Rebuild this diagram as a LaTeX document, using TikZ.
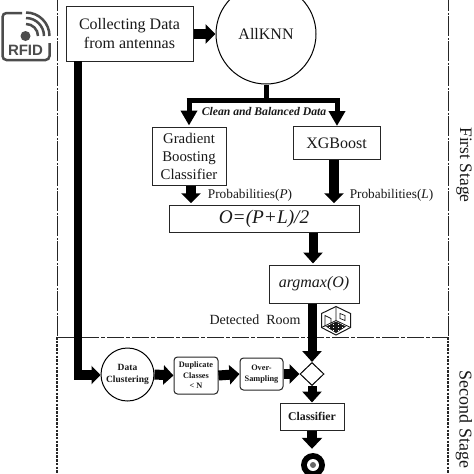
\documentclass[tikz,border=0pt]{standalone}
\usepackage{fontspec}
\setmainfont{Liberation Serif}
\newfontfamily\rfidfont{Liberation Sans}
\usetikzlibrary{shapes.geometric,arrows.meta}
\tikzset{
  px/.style={x=1pt,y=-1pt},
  box/.style={draw=black!85,line width=1pt,fill=white,inner sep=0pt,align=center,text=black!90},
  rbox/.style={box,rounded corners=3.5pt,font=\bfseries},
  circ/.style={draw=black,line width=1pt,fill=white,circle,inner sep=0pt,align=center,text=black!90},
  flow/.style={line width=10pt,-{Triangle[length=10pt,width=19pt]}},
  thin flow/.style={line width=5pt,-{Triangle[length=15pt,width=16pt]}},
  frame/.style={line width=1pt,black!85,dash pattern=on 20pt off 2pt on 1.5pt off 1.5pt,dash phase=9pt},
  hframe/.style={line width=1pt,black!85,dash pattern=on 17pt off 2pt on 4pt off 2pt},
  frame2/.style={line width=1.2pt,black!85,dash pattern=on 2.5pt off 1.2pt},
  lbl/.style={inner sep=0pt,text=black!90},
  icon/.style={black!70,line width=2.5pt}
}
\begin{document}
\begin{tikzpicture}[px]
\useasboundingbox[fill=white] (0,0) rectangle (474,474);
% frames
\coordinate (fl) at (57,0); \coordinate (fr) at (448,0);
\coordinate (ml) at (57,337); \coordinate (mr) at (448,337);
\coordinate (bl) at (57,474); \coordinate (br) at (448,474);
\draw[frame] (fl)--(ml);
\draw[frame] (fr)--(mr);
\draw[hframe] (ml)--(mr);
\draw[frame2] (ml)--(bl);
\draw[frame2] (mr)--(br);
% nodes
\node[box,minimum width=127pt,minimum height=55pt,font=\fontsize{16}{19}\selectfont] (collect) at (129.5,34) {Collecting Data\\from antennas};
\node[circ,minimum size=100pt,font=\fontsize{16}{18}\selectfont] (knn) at (266,34) {AllKNN};
\node[box,minimum width=74pt,minimum height=58pt,font=\fontsize{14.8}{18}\selectfont] (gb) at (189,156) {Gradient\\Boosting\\Classifier};
\node[box,minimum width=87pt,minimum height=33pt,font=\fontsize{16}{18}\selectfont] (xgb) at (336.5,143) {XGBoost};
\node[box,minimum width=190pt,minimum height=26.5pt,font=\itshape\fontsize{19.3}{21}\selectfont] (avg) at (264,219) {O=(P+L)/2};
\node[box,minimum width=90pt,minimum height=38pt,font=\itshape\fontsize{16}{18}\selectfont] (arg) at (314,284) {argmax(O)};
\node[diamond,draw=black,line width=1pt,fill=white,minimum width=24pt,minimum height=23pt,inner sep=0pt] (dec) at (312,374) {};
\node[box,minimum width=64pt,minimum height=27pt,font=\bfseries\fontsize{11.8}{13}\selectfont] (cls) at (312,416.5) {Classifier};
\node[circ,minimum size=53pt,font=\bfseries\fontsize{9.5}{12.7}\selectfont] (clu) at (127.5,374.5) {Data\\Clustering};
\node[rbox,minimum width=44pt,minimum height=37pt,font=\bfseries\fontsize{8.3}{10.5}\selectfont] (dup) at (196,375.5) {Duplicate\\Classes\\< N};
\node[rbox,minimum width=43pt,minimum height=32pt,font=\bfseries\fontsize{8.3}{10.5}\selectfont] (over) at (261.5,374) {Over-\\Sampling};
% target
\node[circle,fill=black,minimum size=24pt,inner sep=0pt] (end) at (313,465) {};
\node[circle,fill=white,minimum size=12pt,inner sep=0pt] (endw) at (end.center) {};
\node[circle,fill=black!60,minimum size=6pt,inner sep=0pt] (endc) at (end.center) {};
% connectors
\coordinate (jl) at (189,100);
\coordinate (jr) at (337,100);
\coordinate (bar) at (knn.south |- jl);
\draw[thin flow,shorten >=1pt] (jl) -- (gb.north);
\draw[thin flow] (jr) -- (xgb.north -| jr);
\draw[line width=5pt] ([xshift=-2.5pt]jl) -- ([xshift=2.5pt]jr);
\draw[line width=5pt] (knn.south) -- (bar);
\draw[flow] (collect.east) -- (knn.west);
\coordinate (sv) at (78,61);
\coordinate (se) at (78,375);
\draw[line width=8pt] (sv) -- (se);
\draw[line width=10pt,-{Triangle[length=9pt,width=18pt]}] ([xshift=-4pt]se) -- (clu.west |- se);
\draw[flow] (clu.east) -- (dup.west);
\draw[flow] (dup.east) -- (over.west);
\draw[flow] (over.east) -- (dec.west);
\draw[flow,shorten >=2pt] ([xshift=2pt]gb.south) -- ([xshift=2pt]gb.south |- avg.north);
\draw[flow,shorten >=2pt] ([xshift=-2.5pt]xgb.south) -- ([xshift=-2.5pt]xgb.south |- avg.north);
\draw[line width=9pt,-{Triangle[length=11pt,width=19pt]},shorten >=1pt] ([xshift=-1pt]arg.north |- avg.south) -- ([xshift=-1pt]arg.north);
\draw[line width=9pt,-{Triangle[length=11pt,width=19pt]}] (arg.south -| dec.north) -- (dec.north);
\draw[line width=9pt,-{Triangle[length=11pt,width=19pt]}] (dec.south) -- (cls.north);
\draw[line width=10pt,-{Triangle[length=11pt,width=20pt]},shorten >=4pt] (cls.south) -- (end.north -| cls.south);
% labels
\node[lbl,font=\bfseries\itshape\fontsize{11.7}{13}\selectfont] (cb) at (264,111) {Clean and Balanced Data};
\node[lbl,font=\fontsize{13.3}{15}\selectfont] (pp) at (250,195) {Probabilities(\textit{P})};
\node[lbl,font=\fontsize{13.3}{15}\selectfont] (pl) at (391.5,195.5) {Probabilities(\textit{L})};
\node[lbl,font=\fontsize{14}{16}\selectfont] (room) at (255,320) {Detected \ Room};
\node[lbl,font=\fontsize{17.5}{20}\selectfont,rotate=-90] (s1) at (464,165) {First Stage};
\node[lbl,font=\fontsize{18}{20}\selectfont,rotate=-90] (s2) at (464,419.5) {Second Stage};
% RFID icon
\draw[black!70,line width=2.5pt,rounded corners=4pt] (22,13) -- (2.5,13) -- (2.5,60) -- (49.5,60) -- (49.5,43);
\fill[black!70] (25.5,36) circle (5pt);
\draw[icon] (26,24) arc (-90:0:12);
\draw[icon] (26,18) arc (-90:0:18);
\draw[icon] (26,12.5) arc (-90:0:23.5);
\node[lbl,font=\rfidfont\bfseries\fontsize{15}{16}\selectfont,text=black!70] (rf) at (25.5,50) {RFID};
% room icon
\begin{scope}[shift={(336,320.5)}]
\draw[black!90,line width=1pt,fill=white] (0,-14) -- (14.5,-7) -- (14.5,7) -- (0,14.5) -- (-14.5,7) -- (-14.5,-7) -- cycle;
\draw[black!90,line width=.8pt] (-14.5,7) -- (0,0) -- (14.5,7) (0,0) -- (0,-14);
\draw[black!90,line width=.7pt] (-11,6) -- (-11,-5) -- (-5,-2) -- (-5,3);
\draw[black!90,line width=.7pt] (4,-7) -- (9,-5) -- (9,0) -- (4,-2) -- cycle;
\fill[black!90] (-10,6) -- (0,1) -- (10,6) -- (0,12.5) -- cycle;
\foreach \r in {0,1,2}{
  \foreach \c in {-3,-1,1,3}{
    \fill[white] ({\c*2.2-0.5},{3.5+\r*3}) rectangle +(1,1);
  }
}
\end{scope}
\end{tikzpicture}
\end{document}
